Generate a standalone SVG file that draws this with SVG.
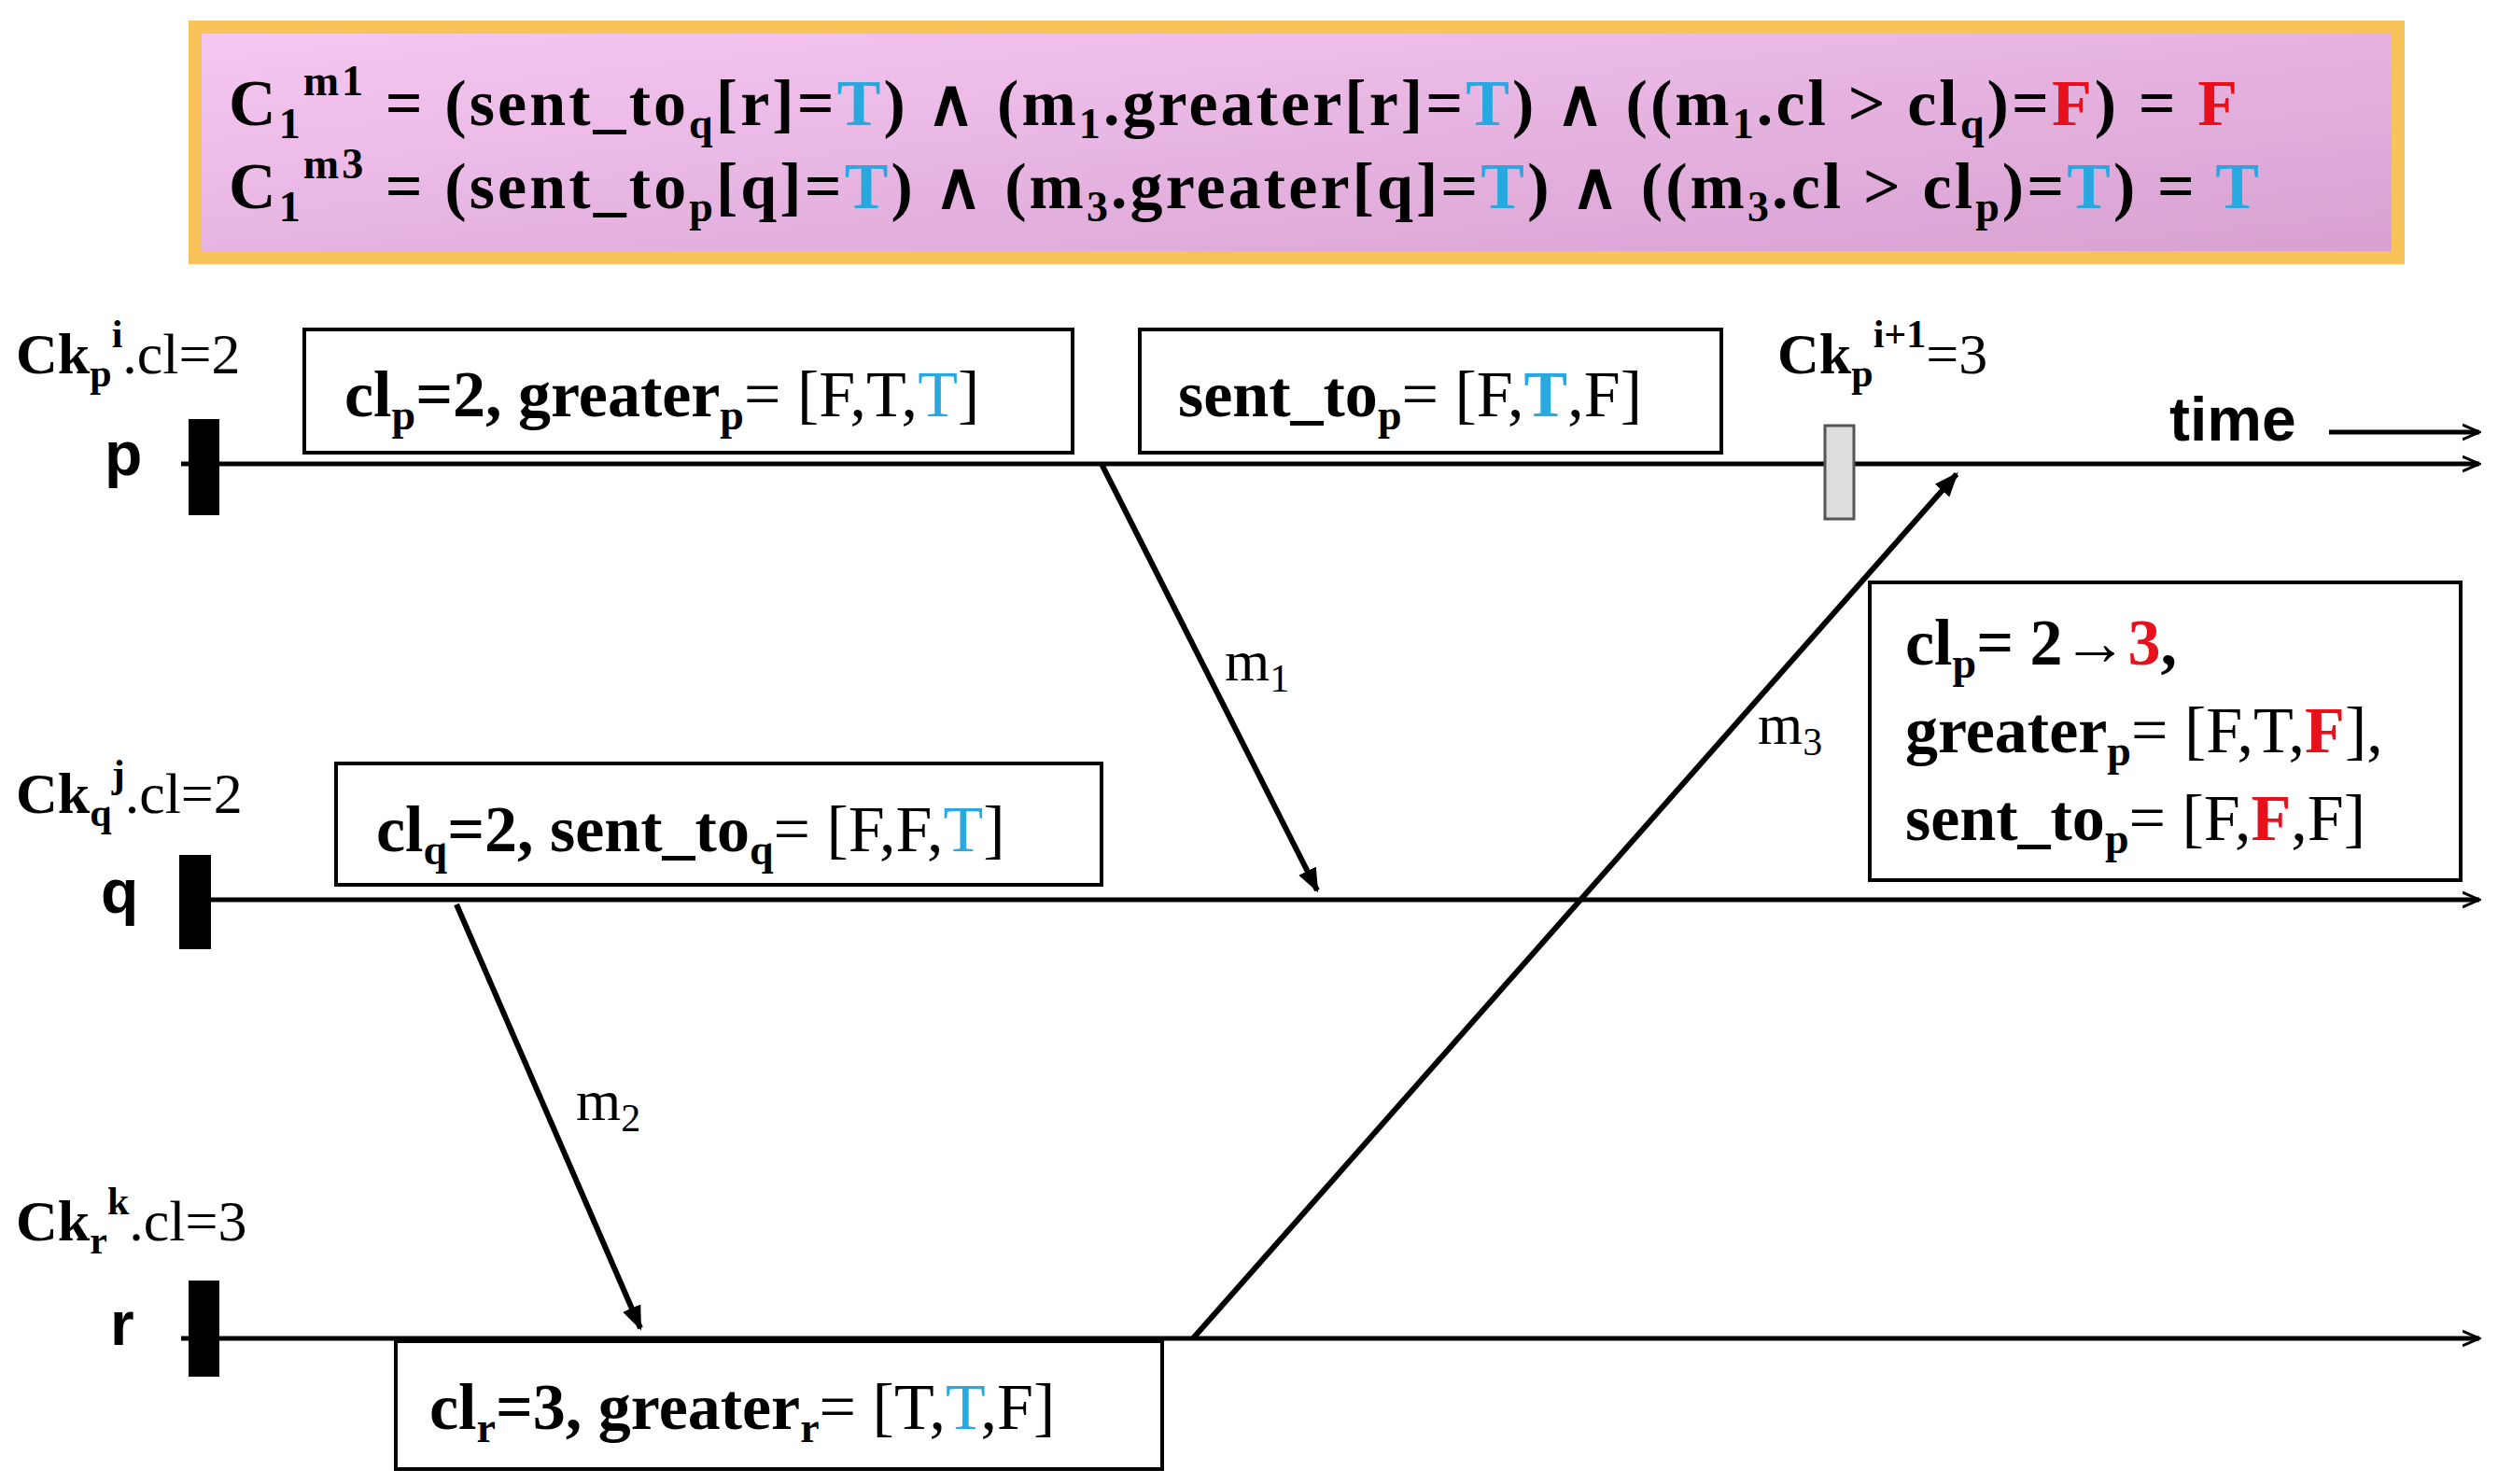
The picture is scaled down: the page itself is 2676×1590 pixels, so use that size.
<svg xmlns="http://www.w3.org/2000/svg" width="2676" height="1590" viewBox="0 0 2676 1590">
<defs>
<linearGradient id="g" x1="0" y1="0" x2="1" y2="1"><stop offset="0" stop-color="#f6c8f2"/><stop offset="1" stop-color="#d7a0d0"/></linearGradient>
<marker id="a" viewBox="0 0 20 20" refX="18" refY="10" markerWidth="20" markerHeight="20" markerUnits="userSpaceOnUse" orient="auto"><path d="M0,2 L18,10 L0,18" fill="none" stroke="#000" stroke-width="3"/></marker>
<marker id="b" viewBox="0 0 10 10" refX="9" refY="5" markerWidth="26" markerHeight="26" markerUnits="userSpaceOnUse" orient="auto"><path d="M0,1 L10,5 L0,9 Z" fill="#000"/></marker>
</defs>
<style>
text{font-family:"Liberation Serif",serif;fill:#000}
.f{font-size:70px;font-weight:bold}
.bx{font-size:70px}
.b{font-weight:bold}
.lbl{font-size:62px}
.pn{font-family:"Liberation Sans",sans-serif;font-weight:bold;font-size:66px}
.bl{fill:#29a8df}
.rd{fill:#e8101a}
.box{fill:#fff;stroke:#000;stroke-width:4}
.ln{stroke:#000;stroke-width:5;fill:none}
.msg{stroke:#000;stroke-width:6;fill:none;marker-end:url(#b)}
</style>
<rect width="2676" height="1590" fill="#fff"/>
<g id="formula">
<rect x="209" y="29" width="2360" height="247" fill="url(#g)" stroke="#f8c45a" stroke-width="14"/>
<text class="f" x="245" y="134" textLength="2152" lengthAdjust="spacing">C<tspan font-size="46" dy="14">1</tspan><tspan font-size="46" dy="-46">m1</tspan><tspan dy="32"> = (sent_to</tspan><tspan font-size="46" dy="14">q</tspan><tspan dy="-14">[r]=</tspan><tspan class="bl">T</tspan>) ∧ (m<tspan font-size="46" dy="14">1</tspan><tspan dy="-14">.greater[r]=</tspan><tspan class="bl">T</tspan>) ∧ ((m<tspan font-size="46" dy="14">1</tspan><tspan dy="-14">.cl &gt; cl</tspan><tspan font-size="46" dy="14">q</tspan><tspan dy="-14">)=</tspan><tspan class="rd">F</tspan>) = <tspan class="rd">F</tspan></text>
<text class="f" x="245" y="223" textLength="2175" lengthAdjust="spacing">C<tspan font-size="46" dy="14">1</tspan><tspan font-size="46" dy="-46">m3</tspan><tspan dy="32"> = (sent_to</tspan><tspan font-size="46" dy="14">p</tspan><tspan dy="-14">[q]=</tspan><tspan class="bl">T</tspan>) ∧ (m<tspan font-size="46" dy="14">3</tspan><tspan dy="-14">.greater[q]=</tspan><tspan class="bl">T</tspan>) ∧ ((m<tspan font-size="46" dy="14">3</tspan><tspan dy="-14">.cl &gt; cl</tspan><tspan font-size="46" dy="14">p</tspan><tspan dy="-14">)=</tspan><tspan class="bl">T</tspan>) = <tspan class="bl">T</tspan></text>
</g>
<g id="connectors">
<line class="ln" x1="194" y1="497" x2="2656" y2="497" marker-end="url(#a)"/>
<line class="ln" x1="194" y1="964" x2="2656" y2="964" marker-end="url(#a)"/>
<line class="ln" x1="194" y1="1434" x2="2656" y2="1434" marker-end="url(#a)"/>
<line class="ln" x1="2495" y1="463" x2="2656" y2="463" marker-end="url(#a)"/>
<line class="msg" x1="1180" y1="497" x2="1411" y2="954"/>
<line class="msg" x1="489" y1="969" x2="686" y2="1423"/>
<line class="msg" x1="1278" y1="1434" x2="2096" y2="508"/>
<text class="lbl" x="1312" y="729">m<tspan font-size="42" dy="12">1</tspan></text>
<text class="lbl" x="1883" y="797">m<tspan font-size="42" dy="12">3</tspan></text>
<text class="lbl" x="617" y="1200">m<tspan font-size="42" dy="12">2</tspan></text>
<text class="pn" x="2324" y="472" font-family="Liberation Serif">time</text>
</g>
<g id="p">
<rect x="202" y="449" width="33" height="103" fill="#000"/>
<text class="pn" x="112" y="509">p</text>
<text class="lbl" x="17" y="400"><tspan class="b">Ck</tspan><tspan font-size="42" dy="14" class="b">p</tspan><tspan font-size="42" dy="-42" class="b">i</tspan><tspan dy="28">.cl=2</tspan></text>
<rect x="1955" y="456" width="31" height="100" fill="#ddd" stroke="#555" stroke-width="3"/>
<text class="lbl" x="1904" y="400"><tspan class="b">Ck</tspan><tspan font-size="42" dy="14" class="b">p</tspan><tspan font-size="42" dy="-42" class="b">i+1</tspan><tspan dy="28">=3</tspan></text>
</g>
<g id="box-p1">
<rect class="box" x="326" y="353" width="823" height="132"/>
<text class="bx" x="369" y="446"><tspan class="b">cl</tspan><tspan class="b" font-size="46" dy="14">p</tspan><tspan class="b" dy="-14">=2, greater</tspan><tspan class="b" font-size="46" dy="14">p</tspan><tspan dy="-14">= [F,T,</tspan><tspan class="bl">T</tspan>]</text>
</g>
<g id="box-p2">
<rect class="box" x="1221" y="353" width="623" height="132"/>
<text class="bx" x="1262" y="446"><tspan class="b">sent_to</tspan><tspan class="b" font-size="46" dy="14">p</tspan><tspan dy="-14">= [F,</tspan><tspan class="bl b">T</tspan>,F]</text>
</g>
<g id="box-p3">
<rect class="box" x="2003" y="624" width="633" height="319"/>
<text class="bx" x="2041" y="712"><tspan class="b">cl</tspan><tspan class="b" font-size="46" dy="14">p</tspan><tspan class="b" dy="-14">= 2→</tspan><tspan class="b rd">3</tspan><tspan class="b">,</tspan></text>
<text class="bx" x="2041" y="806"><tspan class="b">greater</tspan><tspan class="b" font-size="46" dy="14">p</tspan><tspan dy="-14">= [F,T,</tspan><tspan class="b rd">F</tspan>],</text>
<text class="bx" x="2041" y="900"><tspan class="b">sent_to</tspan><tspan class="b" font-size="46" dy="14">p</tspan><tspan dy="-14">= [F,</tspan><tspan class="b rd">F</tspan>,F]</text>
</g>
<g id="q">
<rect x="192" y="916" width="34" height="101" fill="#000"/>
<text class="pn" x="108" y="978">q</text>
<text class="lbl" x="17" y="871"><tspan class="b">Ck</tspan><tspan font-size="42" dy="14" class="b">q</tspan><tspan font-size="42" dy="-42" class="b">j</tspan><tspan dy="28">.cl=2</tspan></text>
</g>
<g id="box-q">
<rect class="box" x="360" y="818" width="820" height="130"/>
<text class="bx" x="403" y="912"><tspan class="b">cl</tspan><tspan class="b" font-size="46" dy="14">q</tspan><tspan class="b" dy="-14">=2, sent_to</tspan><tspan class="b" font-size="46" dy="14">q</tspan><tspan dy="-14">= [F,F,</tspan><tspan class="bl">T</tspan>]</text>
</g>
<g id="r">
<rect x="202" y="1372" width="33" height="103" fill="#000"/>
<text class="pn" x="118" y="1441">r</text>
<text class="lbl" x="17" y="1329"><tspan class="b">Ck</tspan><tspan font-size="42" dy="14" class="b">r</tspan><tspan font-size="42" dy="-42" class="b">k</tspan><tspan dy="28">.cl=3</tspan></text>
</g>
<g id="box-r">
<rect class="box" x="424" y="1437" width="821" height="137"/>
<text class="bx" x="460" y="1531"><tspan class="b">cl</tspan><tspan class="b" font-size="46" dy="14">r</tspan><tspan class="b" dy="-14">=3, greater</tspan><tspan class="b" font-size="46" dy="14">r</tspan><tspan dy="-14">= [T,</tspan><tspan class="bl">T</tspan>,F]</text>
</g>
</svg>
